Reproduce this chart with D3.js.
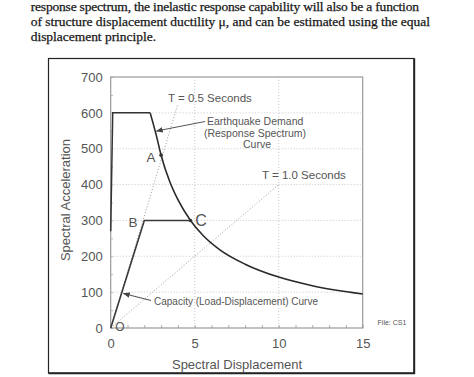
<!DOCTYPE html>
<html>
<head>
<meta charset="utf-8">
<script src="https://cdn.jsdelivr.net/npm/d3@7"></script>
<style>
  body { margin: 0; background: #fff; }
  svg { display: block; }
</style>
</head>
<body>
<div id="chart"></div>
<script>
// text above the figure (page context)
var introLines = [
    "response spectrum, the inelastic response capability will also be a function",
    "of structure displacement ductility \u03bc, and can be estimated using the equal",
    "displacement principle."
];

// axis ticks
var xTicks = [0, 5, 10, 15];
var yTicks = [0, 100, 200, 300, 400, 500, 600, 700];

// earthquake demand (response spectrum) curve
var demandRiseX = [0, 0.12, 2.35];
var demandRiseY = [270, 600, 600];
var demandDecayX = [2.35, 2.7, 3.0, 3.5, 4.0, 4.75, 5.5, 6.5, 8, 10, 12, 15];
var demandDecayY = [600, 540, 482, 410, 358, 300, 258, 218, 178, 142, 118, 95];

// capacity (load-displacement) curve O-B-C
var capacityX = [0, 2.0, 4.75];
var capacityY = [0, 300, 300];

// period lines (dotted, from origin)
var periodNames = ["T = 0.5 Seconds", "T = 1.0 Seconds"];
var periodEndX = [4.0, 10.0];
var periodEndY = [625, 400];

// marked points
var pointNames = ["A", "C"];
var pointX = [3.0, 4.75];
var pointY = [482, 300];


var width = 474, height = 377;
var margin = {top: 77, right: 111.3, bottom: 49, left: 110.7};
var innerW = width - margin.left - margin.right;
var innerH = height - margin.top - margin.bottom;

var svg = d3.select("#chart").append("svg")
    .attr("width", width)
    .attr("height", height);

//Intro text, serif
var lineEnds = [419, 430, 156];
var lineBase = [11, 25.5, 40.5];
svg.append("g").selectAll("text")
    .data(introLines)
    .join("text")
    .attr("x", 30.7)
    .attr("y", function(d, i) { return lineBase[i]; })
    .attr("textLength", function(d, i) { return lineEnds[i] - 30.7; })
    .attr("lengthAdjust", "spacing")
    .attr("font-family", "'Liberation Serif', 'DejaVu Serif', serif")
    .attr("font-size", 13.5)
    .attr("fill", "#161616")
    .attr("stroke", "#161616")
    .attr("stroke-width", 0.25)
    .text(function(d) { return d; });

//Outer frame of the figure
svg.append("rect")
    .attr("x", 48.5).attr("y", 58.5)
    .attr("width", 365.5).attr("height", 314.5)
    .attr("fill", "none")
    .attr("stroke", "#222")
    .attr("stroke-width", 1.2);
svg.append("path")
    .attr("d", "M48.5,373.3 H414.3 V58.5")
    .attr("fill", "none")
    .attr("stroke", "#222")
    .attr("stroke-width", 1.8);

var x = d3.scaleLinear().domain([0, 15]).range([0, innerW]);
var y = d3.scaleLinear().domain([0, 700]).range([innerH, 0]);

var g = svg.append("g")
    .attr("transform", "translate(" + margin.left + "," + margin.top + ")");

//Grid, dotted
g.append("g").selectAll("line")
    .data(yTicks.filter(function(d) { return d > 0 && d < 700; }))
    .join("line")
    .attr("x1", 0).attr("x2", innerW)
    .attr("y1", function(d) { return y(d); })
    .attr("y2", function(d) { return y(d); })
    .attr("stroke", "#c8c8c8")
    .attr("stroke-width", 1)
    .attr("stroke-dasharray", "1,2");

g.append("g").selectAll("line")
    .data(xTicks.filter(function(d) { return d > 0 && d < 15; }))
    .join("line")
    .attr("y1", 0).attr("y2", innerH)
    .attr("x1", function(d) { return x(d); })
    .attr("x2", function(d) { return x(d); })
    .attr("stroke", "#c8c8c8")
    .attr("stroke-width", 1)
    .attr("stroke-dasharray", "1,2");

//Minor ticks inside the frame
var xMinor = d3.axisTop(x).ticks(15).tickSize(3).tickFormat("");
g.append("g")
    .attr("transform", "translate(0," + innerH + ")")
    .call(xMinor)
    .call(function(s) {
        s.select(".domain").remove();
        s.selectAll("line").attr("stroke", "#b0b0b0");
    });
var yMinor = d3.axisRight(y).ticks(14).tickSize(2.5).tickFormat("");
g.append("g")
    .call(yMinor)
    .call(function(s) {
        s.select(".domain").remove();
        s.selectAll("line").attr("stroke", "#c0c0c0");
    });

//Plot frame
g.append("rect")
    .attr("width", innerW).attr("height", innerH)
    .attr("fill", "none")
    .attr("stroke", "#9a9a9a")
    .attr("stroke-width", 1.2);

//Axes labels
var xAxis = d3.axisBottom(x).tickValues(xTicks).tickSize(0).tickPadding(11);
g.append("g")
    .attr("transform", "translate(0," + innerH + ")")
    .call(xAxis)
    .call(function(s) {
        s.select(".domain").remove();
        s.selectAll("text")
            .attr("font-family", "'Liberation Sans', Arial, sans-serif")
            .attr("font-size", 13)
            .attr("fill", "#555");
    });

var yAxis = d3.axisLeft(y).tickValues(yTicks).tickSize(0).tickPadding(8);
g.append("g")
    .call(yAxis)
    .call(function(s) {
        s.select(".domain").remove();
        s.selectAll("text")
            .attr("font-family", "'Liberation Sans', Arial, sans-serif")
            .attr("font-size", 13)
            .attr("fill", "#555");
    });

svg.append("text")
    .attr("x", 237).attr("y", 368.5)
    .attr("text-anchor", "middle")
    .attr("font-family", "'Liberation Sans', Arial, sans-serif")
    .attr("font-size", 13)
    .attr("fill", "#555")
    .text("Spectral Displacement");

svg.append("text")
    .attr("transform", "translate(69.5,200) rotate(-90)")
    .attr("text-anchor", "middle")
    .attr("font-family", "'Liberation Sans', Arial, sans-serif")
    .attr("font-size", 13)
    .attr("fill", "#555")
    .text("Spectral Acceleration");

//Period lines
var line = d3.line()
    .x(function(d) { return x(d[0]); })
    .y(function(d) { return y(d[1]); });

for (var i = 0; i < periodNames.length; i++) {
    g.append("path")
        .attr("d", line([[0, 0], [periodEndX[i], periodEndY[i]]]))
        .attr("fill", "none")
        .attr("stroke", "#999")
        .attr("stroke-width", 1)
        .attr("stroke-dasharray", "1,2");
}

//Demand curve
g.append("path")
    .attr("d", line(d3.zip(demandRiseX, demandRiseY)))
    .attr("fill", "none")
    .attr("stroke", "#333")
    .attr("stroke-width", 1.5);

var smooth = d3.line()
    .x(function(d) { return x(d[0]); })
    .y(function(d) { return y(d[1]); })
    .curve(d3.curveMonotoneX);

g.append("path")
    .attr("d", smooth(d3.zip(demandDecayX, demandDecayY)))
    .attr("fill", "none")
    .attr("stroke", "#2a2a2a")
    .attr("stroke-width", 1.6);

//Capacity curve
g.append("path")
    .attr("d", line(d3.zip(capacityX, capacityY)))
    .attr("fill", "none")
    .attr("stroke", "#3a3a3a")
    .attr("stroke-width", 1.6);

//Points A and C
g.append("g").selectAll("circle")
    .data(d3.range(pointNames.length))
    .join("circle")
    .attr("cx", function(i) { return x(pointX[i]); })
    .attr("cy", function(i) { return y(pointY[i]); })
    .attr("r", 1.8)
    .attr("fill", "#333");

//Arrow heads
svg.append("defs").append("marker")
    .attr("id", "arrow")
    .attr("viewBox", "0 0 10 10")
    .attr("refX", 9).attr("refY", 5)
    .attr("markerWidth", 7).attr("markerHeight", 7)
    .attr("markerUnits", "userSpaceOnUse")
    .attr("orient", "auto")
    .append("path")
    .attr("d", "M0,1 L10,5 L0,9 Z")
    .attr("fill", "#444");

var font = "'Liberation Sans', Arial, sans-serif";
function label(txt, px, py, size, anchor) {
    return svg.append("text")
        .attr("x", px).attr("y", py)
        .attr("text-anchor", anchor || "start")
        .attr("font-family", font)
        .attr("font-size", size)
        .attr("fill", "#555")
        .text(txt);
}

//Earthquake demand label + arrow
svg.append("line")
    .attr("x1", 205).attr("y1", 121.5)
    .attr("x2", 156.5).attr("y2", 131)
    .attr("stroke", "#555").attr("stroke-width", 1)
    .attr("marker-end", "url(#arrow)");
label("Earthquake Demand", 207, 125, 10.5);
label("(Response Spectrum)", 255, 137, 10.5, "middle");
label("Curve", 257, 147.5, 10.5, "middle");

//Capacity label + arrow
svg.append("line")
    .attr("x1", 151).attr("y1", 300.5)
    .attr("x2", 123.5).attr("y2", 293.5)
    .attr("stroke", "#555").attr("stroke-width", 1.2)
    .attr("marker-end", "url(#arrow)");
label("Capacity (Load-Displacement) Curve", 154, 304.5, 10);

//Period labels
label(periodNames[0], 168, 102, 11.5);
label(periodNames[1], 262, 178.5, 11.5);

//Letters
label("A", 151, 162, 13.5, "middle");
label("B", 133, 226.5, 13.5, "middle");
label("C", 201, 226, 16, "middle");
label("O", 120, 331, 12, "middle");

label("File: CS1", 392, 325, 7, "middle");
</script>
</body>
</html>
